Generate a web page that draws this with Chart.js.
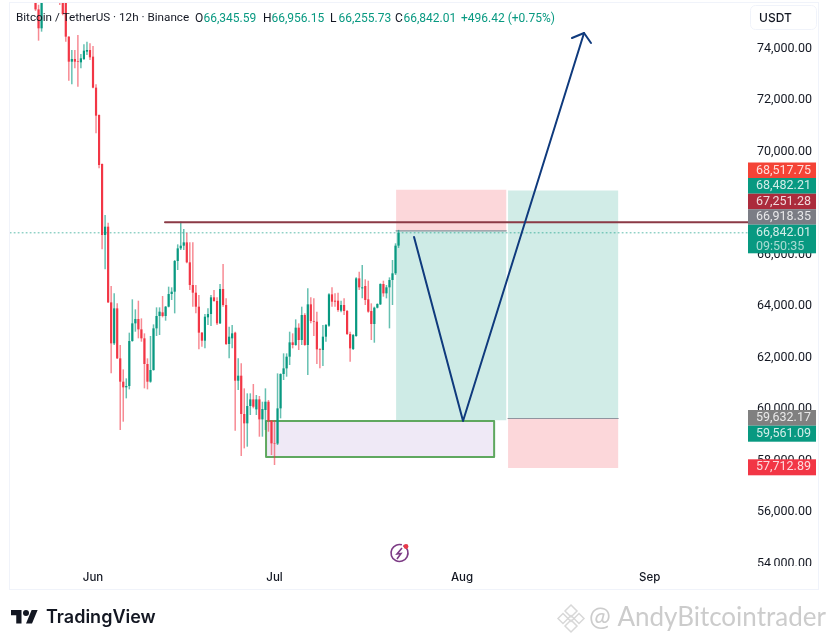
<!DOCTYPE html>
<html>
<head>
<meta charset="utf-8">
<title>Bitcoin / TetherUS 12h</title>
<script src="https://cdn.jsdelivr.net/npm/chart.js@4/dist/chart.umd.min.js"></script>
<style>
    html, body { margin: 0; padding: 0; background: #ffffff; }
    canvas { display: block; }
</style>
</head>
<body>
<canvas id="chartBtc" width="829" height="643" style="width:829px;height:643px"></canvas>
<script>
// 12h candles, oldest first. Days are counted from 1 Jun, the candles above the frame are estimates
const firstCandleDay = -9.5;
const openPrices = [
    75900, 75460, 74725, 76200, 76800, 77100, 76700, 76500, 76200, 75900, 75800,
    74401, 73430, 73534, 73456, 73404, 73534, 73819, 73883, 73625, 72421, 71359, 69457,
    66699, 67023, 64084, 62492, 63851, 61910, 61004, 60784, 60836, 62583, 63269,
    63437, 63036, 62687, 61690, 61004, 61457, 63075, 63554, 63696, 63554, 63916,
    64408, 64499, 65690, 66181, 66285, 66414, 65638, 64758, 64460, 63916, 62907,
    62596, 63502, 63631, 64279, 64136, 63269, 64602, 63981, 62466, 62687, 62907,
    61042, 61237, 59749, 59386, 60059, 60318, 59929, 60318, 59541, 59904, 60227,
    59490, 58609, 58600, 59968, 61301, 61521, 61975, 62531, 62428, 63101, 62622,
    63593, 62428, 64007, 63360, 63334, 62259, 62234, 62751, 63178, 64395, 64149,
    64149, 63761, 63981, 63748, 62855, 62272, 62777, 65016, 64628, 64719, 64201,
    63748, 63243, 63877, 64007, 64796, 64434, 64667, 64952, 65211, 66345.59,
];
const highPrices = [
    76100, 75640, 76400, 77000, 77500, 77600, 77100, 76800, 76400, 76100, 75950,
    74420, 73883, 73883, 74466, 73728, 74103, 74207, 74142, 74039, 72550, 71380, 69480,
    67476, 67178, 64719, 64434, 64046, 62428, 61482, 61133, 62907, 64201, 63813,
    64149, 63463, 62881, 61910, 62777, 63230, 63890, 63890, 64330, 63942, 64693,
    64667, 65728, 66337, 67217, 66932, 66790, 66414, 66414, 64758, 64369, 62930,
    63631, 63851, 64369, 64563, 64279, 64796, 65573, 64240, 63140, 63204, 62945,
    61910, 61716, 60745, 60551, 60551, 60913, 60486, 60448, 60227, 60745, 60292,
    59516, 59516, 61327, 61327, 62104, 62104, 62945, 62881, 63424, 63269, 63916,
    63657, 64628, 64279, 64240, 63722, 62300, 63204, 63243, 64434, 64667, 64434,
    64460, 64149, 64240, 63787, 62945, 62855, 65055, 65275, 65534, 64978, 64926,
    64046, 63916, 64046, 64822, 64926, 64758, 65055, 65728, 66376, 66956.15,
];
const lowPrices = [
    75400, 74246, 74595, 76000, 76400, 76500, 76250, 76000, 75631, 75230, 74207,
    72693, 72550, 73171, 72460, 73171, 73495, 73689, 73495, 72395, 70647, 69288, 66143,
    65366, 64060, 61327, 62428, 61880, 59127, 59451, 60357, 60706, 62557, 62945,
    62687, 62557, 60745, 60706, 60965, 61431, 62777, 62816, 63502, 63373, 63890,
    64175, 63657, 65340, 66117, 66117, 65599, 64563, 63916, 63657, 62259, 62363,
    62298, 63204, 63165, 64110, 63204, 63243, 63916, 62428, 61910, 62298, 59101,
    60680, 58117, 58415, 58480, 59710, 59968, 59710, 58868, 58868, 59127, 59062,
    58156, 57768, 58545, 59580, 61069, 61198, 61651, 62298, 62400, 62234, 62428,
    62400, 61263, 63269, 62777, 61690, 61521, 61612, 62557, 63140, 63916, 63916,
    63722, 63696, 63593, 62816, 61780, 62234, 62751, 64563, 64240, 63981, 63683,
    62622, 62518, 63851, 63981, 64304, 64240, 63075, 63981, 65146, 66255.73,
];
const closePrices = [
    75460, 74725, 76200, 76800, 77100, 76700, 76500, 76200, 75900, 75281, 74401,
    73430, 73534, 73430, 73430, 73560, 73857, 73883, 73599, 72421, 71333, 69418, 66699,
    67023, 64084, 62492, 63851, 61910, 61004, 60784, 60836, 62583, 63269, 63437,
    63036, 62687, 61690, 61004, 61457, 63075, 63554, 63722, 63554, 63916, 64408,
    64499, 65690, 66181, 66285, 66414, 65638, 64758, 64460, 63916, 62907, 62596,
    63528, 63631, 64279, 64136, 63269, 64602, 63981, 62466, 62751, 62881, 61042,
    61237, 59749, 59386, 60059, 60318, 60033, 60318, 59541, 59942, 60227, 59490,
    58609, 58590, 59968, 61301, 61521, 61975, 62531, 62428, 63101, 62622, 63593,
    62428, 64007, 63360, 63334, 62259, 62234, 62751, 63204, 64395, 64110, 64110,
    63787, 63981, 63748, 62855, 62298, 62816, 65016, 64667, 64667, 64175, 63722,
    63243, 63877, 64020, 64796, 64434, 64667, 64952, 65211, 66285, 66842.01,
];
// The prices above were read a touch too low off the picture, only the last candle is exact
const readingOffset = 58;

// Price axis and time axis labels
const priceTicks = [54000, 56000, 58000, 60000, 62000, 64000, 66000, 68000, 70000, 72000, 74000];
const monthLabels = ["Jun", "Jul", "Aug", "Sep"];
const monthDays = [0, 30, 61, 92];

// Both position boxes as [upper, entry, lower] price levels
const leftBoxDays = [50.1, 68.3];
const leftBoxLevels = [68517.75, 66918.35, 59561.09];
const rightBoxDays = [68.6, 86.8];
const rightBoxLevels = [68482.21, 59632.17, 57712.89];
const zoneDays = [28.6, 66.3];
const zonePrices = [59536, 58138];
const resistanceDays = [11.9, 108.3];
const resistancePrice = 67251.28;
const lastPriceDays = [-13.7, 108.3];
const lastPrice = 66842.01;
const arrowDays = [53.06, 61.16, 81.16];
const arrowPrices = [66680, 59536, 74602];
const arrowHeadDays = [79.17, 81.16, 82.31];
const arrowHeadPrices = [74407, 74602, 74213];

const tagLabels = ["68,517.75", "68,482.21", "67,251.28", "66,918.35", "66,842.01", "59,632.17", "59,561.09", "57,712.89"];
const ohlcLabels = ["66,345.59", "66,956.15", "66,255.73", "66,842.01"];

const GREEN = "#089981";
const RED = "#f23645";
const TAG_STYLE = [
    { top: 162.5, h: 15.5, bg: "#f44336" },
    { top: 178, h: 15.7, bg: GREEN },
    { top: 193.7, h: 15.5, bg: "#ab2b3c" },
    { top: 209.2, h: 15.5, bg: "#7b7d85" },
    { top: 224.7, h: 28.6, bg: GREEN },
    { top: 410, h: 15.7, bg: "#808080" },
    { top: 425.7, h: 16, bg: GREEN },
    { top: 459.3, h: 16, bg: "#f23645" },
];

const isUp = closePrices.map((c, i) => c >= openPrices[i]);
const candleDay = (i) => firstCandleDay + i * 0.5;
const adjusted = (price, i) => (i === closePrices.length - 1 ? price : price + readingOffset);

// Kotak tertutup sebagai line dataset, diisi dengan fill "shape"
function rect(days, top, bottom) {
    return [
        { x: days[0], y: top },
        { x: days[1], y: top },
        { x: days[1], y: bottom },
        { x: days[0], y: bottom },
        { x: days[0], y: top },
    ];
}
function boxDataset(days, top, bottom, color) {
    return {
        type: "line",
        data: rect(days, top, bottom),
        backgroundColor: color,
        borderWidth: 0,
        borderColor: "transparent",
        pointRadius: 0,
        tension: 0,
        fill: "shape",
    };
}
function lineDataset(xs, ys, color, width, dash) {
    return {
        type: "line",
        data: xs.map((x, i) => ({ x: x, y: ys[i] })),
        borderColor: color,
        borderWidth: width,
        borderDash: dash || [],
        pointRadius: 0,
        tension: 0,
        fill: false,
        borderCapStyle: "round",
        borderJoinStyle: "round",
    };
}

const overlayPlugin = {
    id: "overlay",
    afterDraw(chart) {
        const c = chart.ctx;
        c.save();
        c.textBaseline = "middle";
        c.textAlign = "left";

        // Potong label 54,000 di batas bawah area harga
        c.fillStyle = "#ffffff";
        c.fillRect(749, 566, 69, 23);

        // Bingkai tipis
        c.strokeStyle = "#f0f3fa";
        c.lineWidth = 1;
        c.strokeRect(9.5, 2.5, 809, 587);

        // Judul
        c.font = "11.7px Roboto";
        c.fillStyle = "#131722";
        c.fillText("Bitcoin / TetherUS · 12h · Binance", 16, 18.5);
        const parts = ["O", "H", "L", "C"];
        const partX = [195, 263, 330, 395];
        c.font = "12px Roboto";
        parts.forEach((p, i) => {
            c.fillStyle = "#131722";
            c.fillText(p, partX[i], 18.5);
            c.fillStyle = GREEN;
            c.fillText(ohlcLabels[i], partX[i] + 8.5, 18.5);
        });
        c.fillText("+496.42 (+0.75%)", 461, 18.5);

        // Tombol mata uang
        c.strokeStyle = "#f0f3fa";
        c.beginPath();
        c.roundRect(750.5, 5.5, 66, 24, 5);
        c.stroke();
        c.fillStyle = "#131722";
        c.font = "500 12px Inter";
        c.fillText("USDT", 759, 18);

        // Label harga di sumbu kanan
        c.font = "12.5px Roboto";
        tagLabels.forEach((label, i) => {
            const s = TAG_STYLE[i];
            c.fillStyle = s.bg;
            c.fillRect(748, s.top, 68, s.h);
            c.fillStyle = "rgba(255,255,255,0.82)";
            c.fillText(label, 756, s.top + 8);
        });
        c.fillStyle = "rgba(255,255,255,0.65)";
        c.fillText("09:50:35", 756, TAG_STYLE[4].top + 22);

        // Ikon petir
        c.strokeStyle = "#7d3c86";
        c.lineWidth = 1.6;
        c.beginPath();
        c.arc(399.5, 553, 8.5, -1.1, 5.0);
        c.stroke();
        c.beginPath();
        c.moveTo(402, 548);
        c.lineTo(397, 554);
        c.lineTo(401, 553.5);
        c.lineTo(397, 559);
        c.stroke();
        c.fillStyle = "#e8394a";
        c.beginPath();
        c.arc(406, 546.5, 2.4, 0, Math.PI * 2);
        c.fill();

        // Logo TradingView
        c.fillStyle = "#131722";
        c.save();
        c.translate(11, 607);
        c.scale(0.75, 0.75);
        c.fill(new Path2D("M14 22H7V11H0V4h14v18zM28 22h-8l7.5-18h8L28 22z"));
        c.beginPath();
        c.arc(20, 8, 4, 0, Math.PI * 2);
        c.fill();
        c.restore();
        c.font = "600 18px Inter";
        c.fillText("TradingView", 46, 617.5);

        // Watermark
        c.strokeStyle = "#d8d8d8";
        c.lineWidth = 1.5;
        [[571, 611, 6], [571, 626, 6], [563, 618.5, 5], [579, 618.5, 5], [571, 618.5, 3]].forEach((d) => {
            c.beginPath();
            c.moveTo(d[0], d[1] - d[2]);
            c.lineTo(d[0] + d[2], d[1]);
            c.lineTo(d[0], d[1] + d[2]);
            c.lineTo(d[0] - d[2], d[1]);
            c.closePath();
            c.stroke();
        });
        c.fillStyle = "#cccccc";
        c.font = "26px Lato";
        c.fillText("@ AndyBitcointrader", 589, 618);
        c.restore();
    },
};

new Chart(document.getElementById("chartBtc").getContext("2d"), {
    type: "bar",
    data: {
        datasets: [
            // Dataset pertama digambar paling atas
            lineDataset(arrowHeadDays, arrowHeadPrices, "#0f3a7d", 2),
            lineDataset(arrowDays, arrowPrices, "#0f3a7d", 2),
            lineDataset(resistanceDays, [resistancePrice, resistancePrice], "#8b3a46", 2),
            {
                data: openPrices.map((o, i) => ({ x: candleDay(i), y: [adjusted(o, i), adjusted(closePrices[i], i)] })),
                backgroundColor: isUp.map((u) => (u ? GREEN : RED)),
                maxBarThickness: 2.8, // grouped:false mengabaikan barThickness
                grouped: false,
                inflateAmount: 0,
            },
            {
                data: lowPrices.map((l, i) => ({ x: candleDay(i), y: [adjusted(l, i), adjusted(highPrices[i], i)] })),
                backgroundColor: isUp.map((u) => (u ? "rgba(8,153,129,0.62)" : "rgba(242,54,69,0.58)")),
                maxBarThickness: 1.5,
                grouped: false,
                inflateAmount: 0,
            },
            lineDataset(lastPriceDays, [lastPrice, lastPrice], "rgba(8,153,129,0.65)", 1, [1, 3]),
            lineDataset(leftBoxDays, [leftBoxLevels[1], leftBoxLevels[1]], "#8f949e", 1.2),
            lineDataset(rightBoxDays, [rightBoxLevels[1], rightBoxLevels[1]], "#8f949e", 1.2),
            lineDataset(
                [zoneDays[0], zoneDays[1], zoneDays[1], zoneDays[0], zoneDays[0]],
                [zonePrices[0], zonePrices[0], zonePrices[1], zonePrices[1], zonePrices[0]],
                "#5fa85f",
                2,
            ),
            boxDataset(zoneDays, zonePrices[0], zonePrices[1], "#efe9f6"),
            boxDataset(leftBoxDays, leftBoxLevels[0], leftBoxLevels[1], "rgba(242,54,69,0.2)"),
            boxDataset(leftBoxDays, leftBoxLevels[1], leftBoxLevels[2], "rgba(8,153,129,0.2)"),
            boxDataset(rightBoxDays, rightBoxLevels[0], rightBoxLevels[1], "rgba(8,153,129,0.19)"),
            boxDataset(rightBoxDays, rightBoxLevels[1], rightBoxLevels[2], "rgba(242,54,69,0.2)"),
        ],
    },
    options: {
        responsive: false,
        animation: false,
        layout: { padding: { left: 10, right: 10, top: 3, bottom: 53 } },
        plugins: {
            legend: { display: false },
            tooltip: { enabled: false },
        },
        scales: {
            x: {
                type: "linear",
                offset: false,
                min: -13.72,
                max: 108.26,
                grid: { display: false, drawTicks: false },
                border: { display: false },
                afterBuildTicks: (scale) => {
                    scale.ticks = monthDays.map((d) => ({ value: d }));
                },
                afterFit: (scale) => {
                    scale.height = 24;
                    scale.paddingLeft = 0;
                    scale.paddingRight = 0;
                },
                ticks: {
                    color: "#131722",
                    font: { family: "Inter", size: 11.5, weight: "500" },
                    padding: 5,
                    maxRotation: 0,
                    autoSkip: false,
                    callback: (value) => monthLabels[monthDays.indexOf(value)],
                },
            },
            y: {
                position: "right",
                min: 53905,
                max: 75766,
                grid: { display: false, drawTicks: false },
                border: { display: false },
                afterBuildTicks: (scale) => {
                    scale.ticks = priceTicks.map((p) => ({ value: p }));
                },
                afterFit: (scale) => {
                    scale.width = 71;
                    scale.paddingTop = 0;
                    scale.paddingBottom = 0;
                },
                ticks: {
                    color: "#131722",
                    font: { family: "Roboto", size: 12.5 },
                    padding: 9,
                    autoSkip: false,
                    callback: (value) => value.toLocaleString("en-US", { minimumFractionDigits: 2 }),
                },
            },
        },
    },
    plugins: [overlayPlugin],
});
</script>
</body>
</html>
